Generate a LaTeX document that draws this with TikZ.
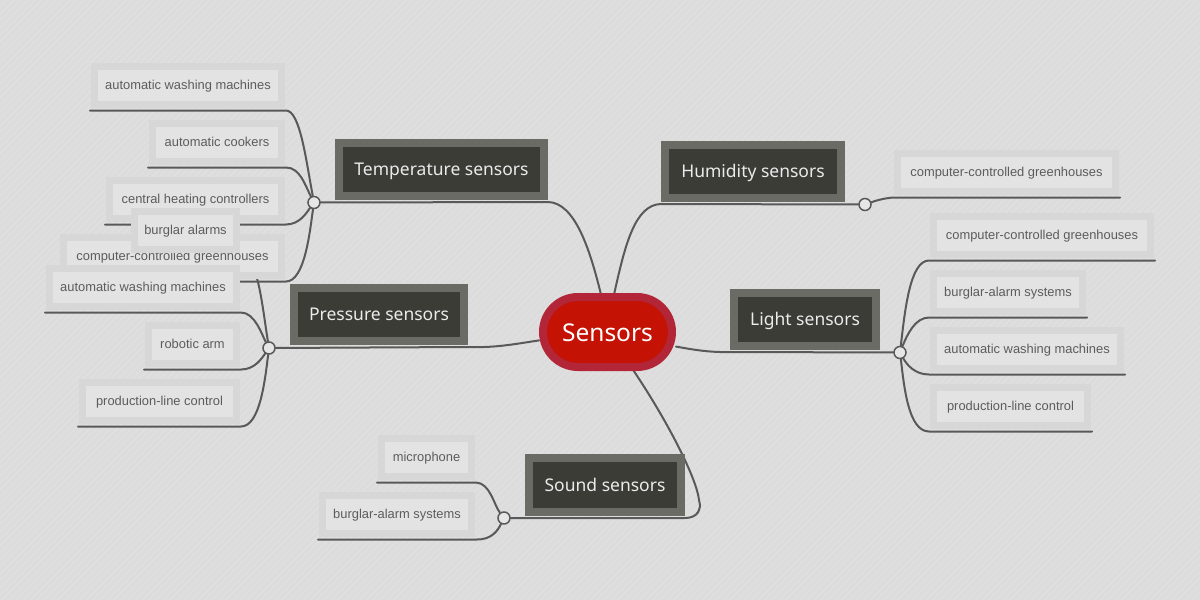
\documentclass[tikz,border=0pt]{standalone}
\usepackage{fontspec}
\setmainfont{Noto Sans}
\newfontfamily\leaffont{Liberation Sans}
\definecolor{paper}{HTML}{DCDCDC}
\definecolor{stripe}{HTML}{E0E0E0}
\definecolor{leafin}{HTML}{E3E3E3}
\definecolor{leafout}{HTML}{D7D7D7}
\definecolor{leaftxt}{HTML}{5C5C5C}
\definecolor{link}{HTML}{595959}
\definecolor{brin}{HTML}{3B3C36}
\definecolor{brout}{HTML}{6A6B64}
\definecolor{rootin}{HTML}{C41304}
\definecolor{rootout}{HTML}{B22638}
\definecolor{hubfill}{HTML}{E6E6E6}
\pgfdeclarelayer{paperlayer}
\pgfdeclarelayer{linklayer}
\pgfsetlayers{paperlayer,linklayer,main}
\tikzset{
  leafbox/.style={rectangle,fill=leafin,draw=leafout,line width=7pt,inner sep=0pt,outer xsep=4.5pt,outer ysep=6.5pt,text=leaftxt,text height=9pt,text depth=0pt,font=\leaffont\fontsize{12.9}{15}\selectfont},
  branchbox/.style={rectangle,fill=brin,draw=brout,line width=8pt,inner sep=0pt,outer xsep=4pt,outer ysep=6pt,text=white!92!black,text height=12pt,text depth=0pt,font=\fontsize{17.5}{21}\selectfont},
  rootbox/.style={rectangle,rounded corners=35pt,fill=rootin,draw=rootout,line width=8pt,inner sep=0pt,outer sep=4pt,text=white,text height=18pt,text depth=0pt,font=\fontsize{24.5}{29}\selectfont},
  hubdot/.style={circle,fill=hubfill,draw=link,line width=1.5pt,minimum size=12pt,inner sep=0pt},
  linkline/.style={draw=link,line width=2pt,line cap=round}
}
\newcommand{\leafnode}[5]{\node[leafbox,minimum width={(#3-#2+7)*1pt},minimum height=38pt] (#1) at ({(#2+#3)/2},#4) {#5};}
\newcommand{\branchnode}[6]{\node[branchbox,minimum width={(#3-#2+8)*1pt},minimum height={(#5-#4+8)*1pt}] (#1) at ({(#2+#3)/2},{(#4+#5)/2}) {#6};}
\begin{document}
\begin{tikzpicture}[x=1pt,y=-1pt]
\useasboundingbox (0,0) rectangle (1200,600);
\begin{pgfonlayer}{paperlayer}
\fill[paper] (0,0) rectangle (1200,600);
\begin{scope}
\clip (0,0) rectangle (1200,600);
\foreach \s in {0,7,...,1800} \draw[stripe,line width=1.6pt] (\s,0) -- (\s-600,600);
\end{scope}
\end{pgfonlayer}

% root and branches
\node[rootbox,minimum width=129pt,minimum height=70pt] (root) at (607.5,332) {Sensors};
\branchnode{temp}{343}{540}{147}{192}{Temperature sensors}
\branchnode{humid}{669}{837}{149}{194}{Humidity sensors}
\branchnode{press}{298}{460}{292}{337}{Pressure sensors}
\branchnode{light}{738}{872}{297}{342}{Light sensors}
\branchnode{sound}{533}{677}{462}{508}{Sound sensors}

% leaves
\leafnode{t1}{98}{278}{85}{automatic washing machines}
\leafnode{t2}{156}{278}{142}{automatic cookers}
\leafnode{t3}{113}{278}{199}{central heating controllers}
\leafnode{t4}{67}{278}{256}{computer-controlled greenhouses}
\leafnode{p1}{138}{233}{230}{burglar alarms}
\leafnode{p2}{53}{233}{287}{automatic washing machines}
\leafnode{p3}{152}{233}{344}{robotic arm}
\leafnode{p4}{86}{233}{401}{production-line control}
\leafnode{s1}{385}{468}{457}{microphone}
\leafnode{s2}{326}{468}{514}{burglar-alarm systems}
\leafnode{h1}{901}{1112}{172}{computer-controlled greenhouses}
\leafnode{l1}{937}{1147}{235}{computer-controlled greenhouses}
\leafnode{l2}{937}{1079}{292}{burglar-alarm systems}
\leafnode{l3}{937}{1117}{349}{automatic washing machines}
\leafnode{l4}{937}{1084}{406}{production-line control}

% hubs
\node[hubdot] (ht) at (314,202.5) {};
\node[hubdot] (hh) at (865,204.5) {};
\node[hubdot] (hp) at (269,348) {};
\node[hubdot] (hl) at (900,352.5) {};
\node[hubdot] (hs) at (504,518) {};

\begin{pgfonlayer}{linklayer}
\draw[linkline] (ht) -- (temp.south east) .. controls (575,202.5) and (590,250) .. (root.100);
\draw[linkline] (hh) -- (humid.south west) .. controls (635,204.5) and (625,245) .. (root.80);
\draw[linkline] (hp) -- (press.south east) .. controls (495,348) and (515,344) .. (root.187);
\draw[linkline] (hl) -- (light.south west) .. controls (710,352.5) and (695,350) .. (root.-12);
\draw[linkline] (hs) -- (sound.south east) .. controls (697,518) and (702,510) .. (699,500) .. controls (697,480) and (670,425) .. (root.-56);

\foreach \n/\a/\b/\c/\d in {t1/300/110.5/306/160,t2/300/167.5/305/185,t3/300/224.5/307/212,t4/305/281.5/310/230}
  \draw[linkline] (\n.south west) -- (\n.south east) .. controls (\a,\b) and (\c,\d) .. (ht);
\foreach \n/\a/\b/\c/\d in {p1/258/255.5/262/305,p2/255/312.5/262/335,p3/255/369.5/262/358,p4/260/426.5/265/380}
  \draw[linkline] (\n.south west) -- (\n.south east) .. controls (\a,\b) and (\c,\d) .. (hp);
\foreach \n/\a/\b/\c/\d in {s1/490/483/494/505,s2/492/540/498/530}
  \draw[linkline] (\n.south west) -- (\n.south east) .. controls (\a,\b) and (\c,\d) .. (hs);
\draw[linkline] (h1.south east) -- (h1.south west) .. controls (882,198.5) and (875,201) .. (hh);
\foreach \n/\a/\b/\c/\d in {l1/910/260.5/905/310,l2/915/317.5/907/335,l3/915/374.5/907/365,l4/908/431.5/904/385}
  \draw[linkline] (\n.south east) -- (\n.south west) .. controls (\a,\b) and (\c,\d) .. (hl);
\end{pgfonlayer}
\end{tikzpicture}
\end{document}
